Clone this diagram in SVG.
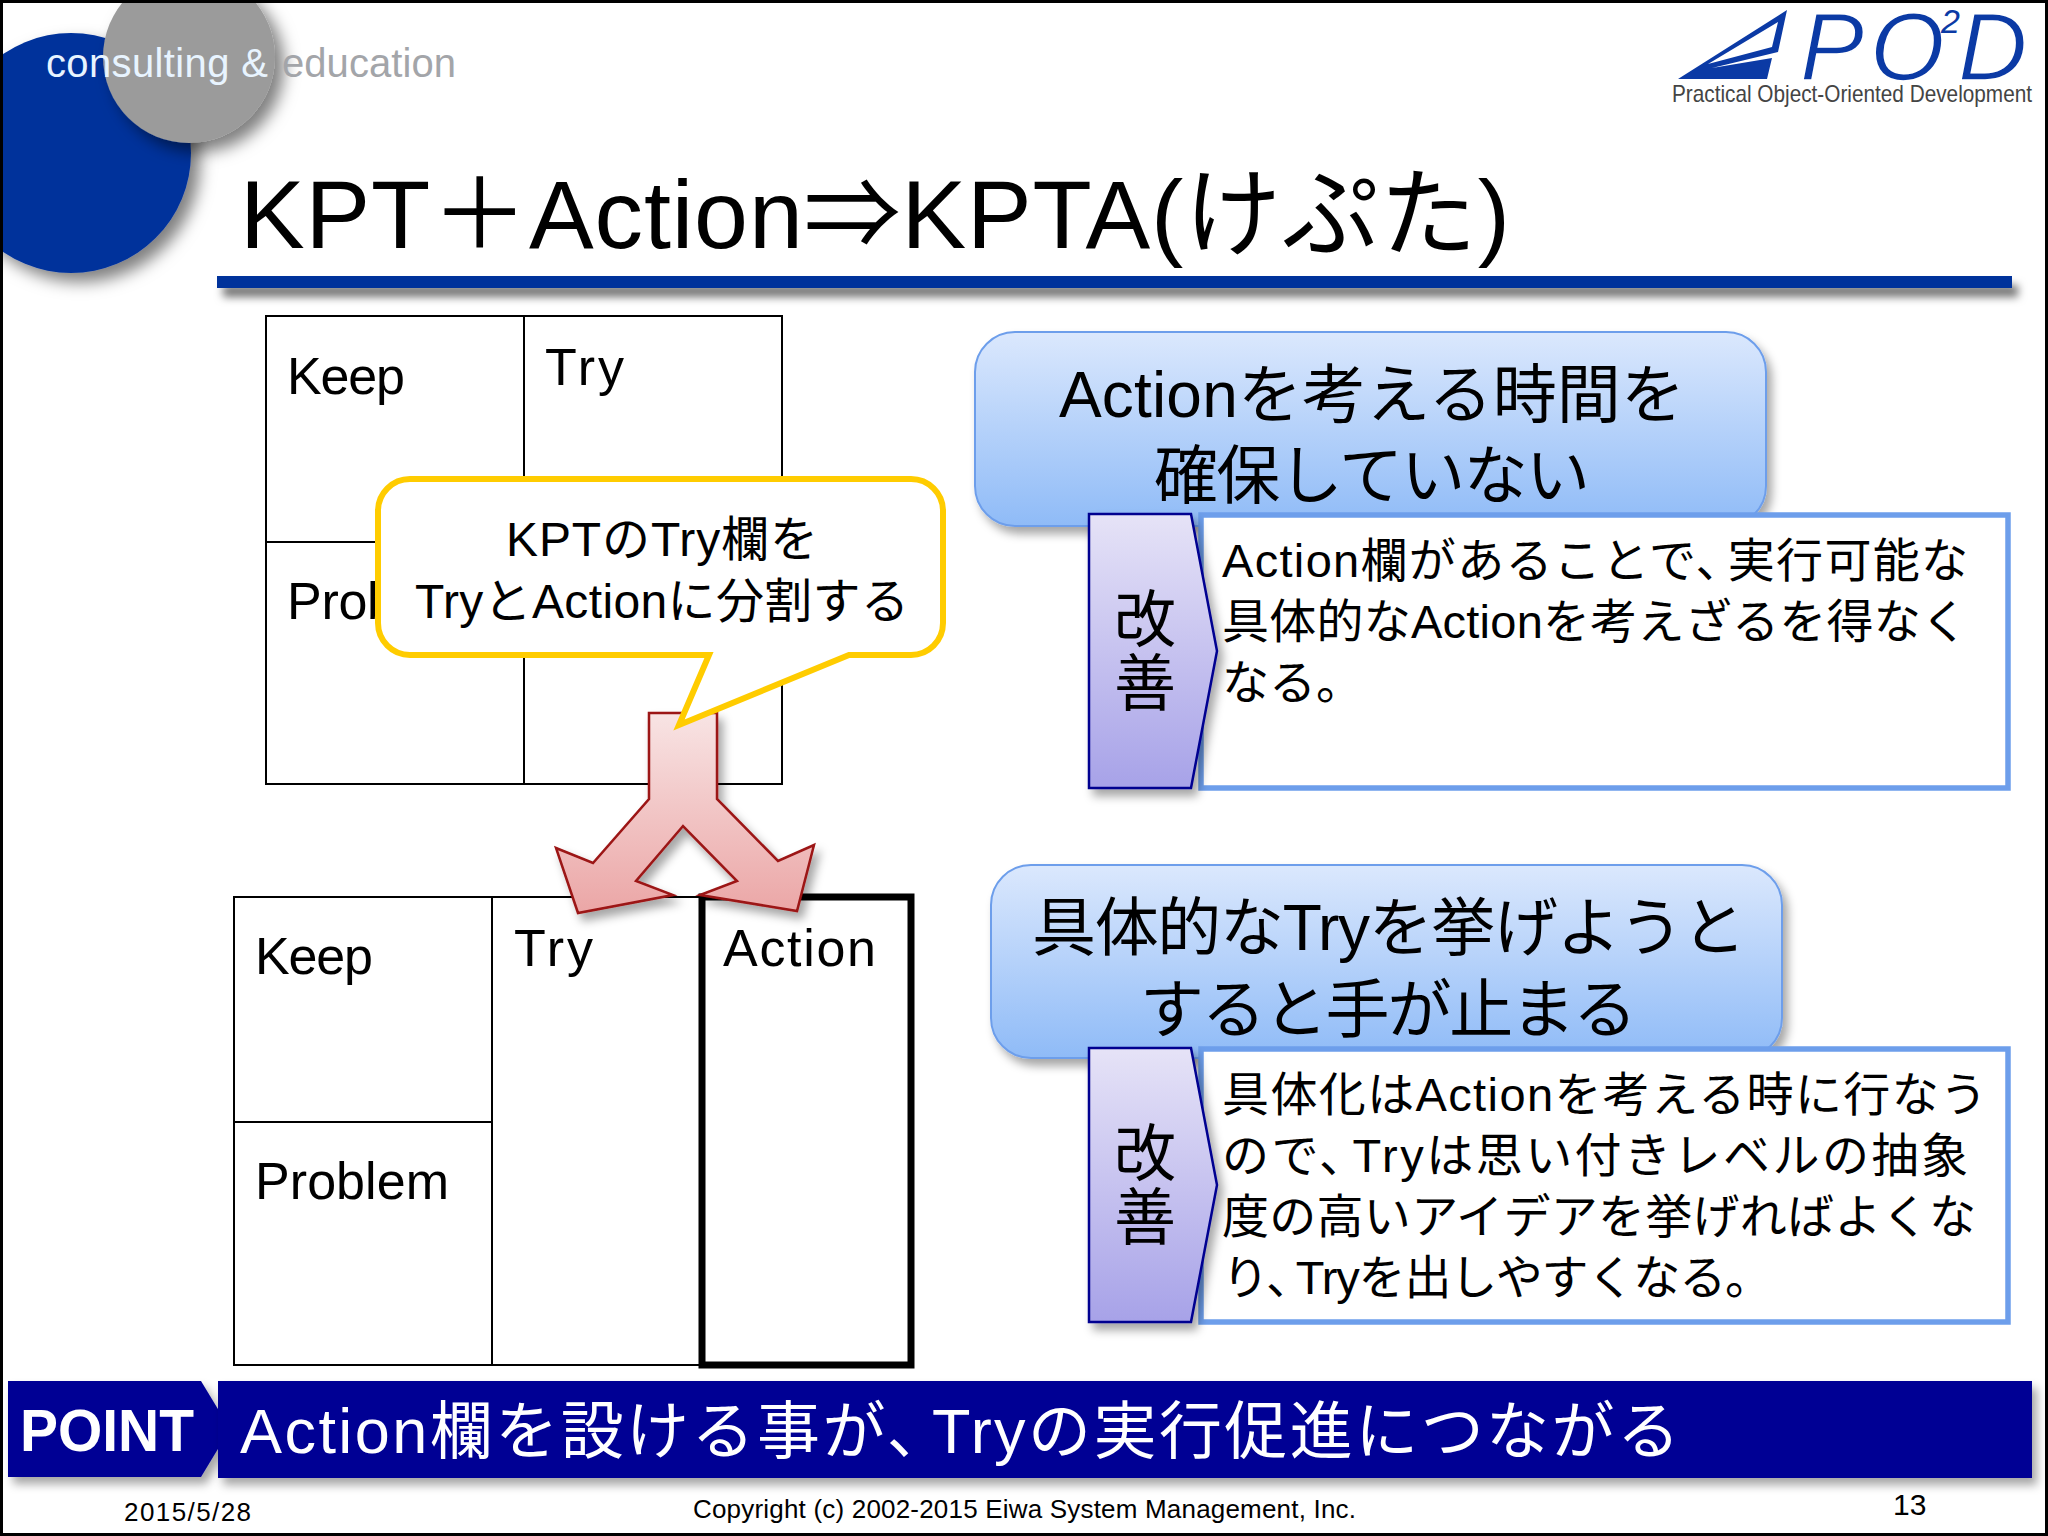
<svg xmlns="http://www.w3.org/2000/svg" width="2048" height="1536" viewBox="0 0 2048 1536">
<style>
text{font-family:"Liberation Sans","Noto Sans CJK JP",sans-serif;fill:#000}
.cell{fill:#fff;stroke:#000;stroke-width:2}
.tl{font-size:52px}
.h{font-size:64px}
.b{font-size:47px}
.k{font-size:62px;text-anchor:middle}
.hbox{fill:url(#gb);stroke:#6d9eeb;stroke-width:2;filter:url(#sh)}
.chev{fill:url(#gv);stroke:#000090;stroke-width:2.5;filter:url(#sh)}
.tbox{fill:#fff;stroke:#6d9eeb;stroke-width:5.5}
.logo{font-size:96px;font-style:italic;fill:#0b3aa5;stroke:#fff;stroke-width:1.5}
</style>
<defs>
<linearGradient id="gb" x1="0" y1="0" x2="0" y2="1"><stop offset="0" stop-color="#dbe8fd"/><stop offset="1" stop-color="#8fbbf7"/></linearGradient>
<linearGradient id="gv" x1="0" y1="0" x2="0" y2="1"><stop offset="0" stop-color="#e6e3f7"/><stop offset="1" stop-color="#a7a2e8"/></linearGradient>
<linearGradient id="gr" x1="0" y1="0" x2="0" y2="1"><stop offset="0" stop-color="#f8e4e4"/><stop offset="1" stop-color="#eba6a6"/></linearGradient>
<filter id="sh" x="-20%" y="-20%" width="140%" height="140%"><feDropShadow dx="5" dy="7" stdDeviation="5" flood-color="#000" flood-opacity=".35"/></filter>
<filter id="sh2" x="-20%" y="-20%" width="140%" height="140%"><feDropShadow dx="9" dy="9" stdDeviation="8" flood-color="#000" flood-opacity=".5"/></filter>
<filter id="sh3" x="-2%" y="-100%" width="104%" height="400%"><feDropShadow dx="6" dy="9" stdDeviation="4" flood-color="#000" flood-opacity=".55"/></filter>
<clipPath id="fr"><rect x="3" y="3" width="2042" height="1530"/></clipPath>
</defs>
<rect width="2048" height="1536" fill="#fff"/>
<g id="logo-left" clip-path="url(#fr)">
<circle cx="71" cy="153" r="120" fill="#04339b" filter="url(#sh2)"/>
<circle cx="189" cy="57" r="86" fill="#9b9b9b" filter="url(#sh2)"/>
<text x="46" y="77" font-size="40" textLength="222" style="fill:#e8f4ff">consulting &amp;</text>
<text x="282" y="77" font-size="40" textLength="174" style="fill:#a3a5a9">education</text>
</g>
<g id="logo-right">
<path d="M1678 79L1787 10L1778 52L1712 68L1772 58L1767 79Z M1708 64L1778 22L1772 47Z" fill="#0b3aa5" fill-rule="evenodd"/>
<text class="logo" x="1800" y="80">P</text>
<text class="logo" x="1870" y="80">O</text>
<text x="1941" y="33" font-size="34" font-style="italic" style="fill:#0b3aa5">2</text>
<text class="logo" x="1958" y="80">D</text>
<text x="1672" y="102" font-size="24" textLength="360" lengthAdjust="spacingAndGlyphs" style="fill:#444">Practical Object-Oriented Development</text>
</g>
<g id="title">
<text x="240" y="248" font-size="97" textLength="1270">KPT＋Action⇒KPTA(けぷた)</text>
<rect x="217" y="276" width="1795" height="12" fill="#04339b" filter="url(#sh3)"/>
</g>
<g id="kpt-top">
<rect class="cell" x="266" y="316" width="516" height="468"/>
<path class="cell" d="M524 316V784M266 542H782"/>
<text class="tl" x="287" y="394" textLength="118">Keep</text>
<text class="tl" x="545" y="385" textLength="79">Try</text>
<text class="tl" x="287" y="619" textLength="192">Problem</text>
</g>
<g id="kpta-bottom">
<rect class="cell" x="234" y="897" width="470" height="468"/>
<path class="cell" d="M492 897V1365M234 1122H492"/>
<text class="tl" x="255" y="974" textLength="118">Keep</text>
<text class="tl" x="514" y="966" textLength="79">Try</text>
<text class="tl" x="255" y="1199" textLength="194">Problem</text>
<rect x="702" y="897" width="209" height="468" fill="none" stroke="#000" stroke-width="7"/>
<text class="tl" x="723" y="966" textLength="153">Action</text>
</g>
<g id="connectors">
<path d="M649 713H717V799L778 861L814 845L797 911L700 895L737 881L683 826L636 881L673 895L578 913L556 848L593 863L649 799Z" fill="url(#gr)" stroke="#9c1414" stroke-width="2.5" filter="url(#sh)"/>
</g>
<g id="callout">
<path d="M410 479H911A32 32 0 0 1 943 511V623A32 32 0 0 1 911 655H849L679 725L709 655H410A32 32 0 0 1 378 623V511A32 32 0 0 1 410 479Z" fill="#fff" stroke="#ffcc00" stroke-width="6"/>
<text x="506" y="556" font-size="48" textLength="312">KPTのTry欄を</text>
<text x="415" y="618" font-size="48" textLength="494">TryとActionに分割する</text>
</g>
<g id="issue-1">
<rect class="hbox" x="975" y="332" width="791" height="194" rx="40"/>
<text class="h" x="1059" y="417" textLength="626">Actionを考える時間を</text>
<text class="h" x="1154" y="498" textLength="436">確保していない</text>
</g>
<g id="fix-1">
<rect class="tbox" x="1201" y="515" width="807" height="273"/>
<path class="chev" d="M1089 514H1191L1217 651L1191 788H1089Z"/>
<text class="k" x="1145" y="642">改</text>
<text class="k" x="1145" y="706">善</text>
<text class="b" x="1222" y="577" textLength="746">Action欄があることで、<tspan dx="-16">実行可能な</tspan></text>
<text class="b" x="1222" y="638" textLength="746">具体的なActionを考えざるを得なく</text>
<text class="b" x="1222" y="699">なる。</text>
</g>
<g id="issue-2">
<rect class="hbox" x="991" y="865" width="791" height="193" rx="40"/>
<text class="h" x="1032" y="950" textLength="714">具体的なTryを挙げようと</text>
<text class="h" x="1140" y="1032" textLength="497">すると手が止まる</text>
</g>
<g id="fix-2">
<rect class="tbox" x="1201" y="1049" width="807" height="273"/>
<path class="chev" d="M1089 1048H1191L1217 1185L1191 1322H1089Z"/>
<text class="k" x="1145" y="1176">改</text>
<text class="k" x="1145" y="1240">善</text>
<text class="b" x="1222" y="1111" textLength="765">具体化はActionを考える時に行なう</text>
<text class="b" x="1222" y="1172" textLength="746">ので、<tspan dx="-16">Tryは思い付きレベルの抽象</tspan></text>
<text class="b" x="1222" y="1233" textLength="754">度の高いアイデアを挙げればよくな</text>
<text class="b" x="1222" y="1294" textLength="550">り、<tspan dx="-16">Tryを出しやすくなる。</tspan></text>
</g>
<g id="point">
<path d="M8 1381H201L230 1429L201 1477H8Z" fill="#000094" filter="url(#sh)"/>
<rect x="218" y="1381" width="1814" height="97" fill="#000094" filter="url(#sh)"/>
<text x="20" y="1451" font-size="60" font-weight="bold" textLength="174" lengthAdjust="spacingAndGlyphs" style="fill:#fff">POINT</text>
<text x="240" y="1453" font-size="63" textLength="1440" style="fill:#fff">Action欄を設ける事が、<tspan dx="-20">Tryの実行促進につながる</tspan></text>
</g>
<g id="footer">
<text x="124" y="1521" font-size="26" textLength="127">2015/5/28</text>
<text x="693" y="1518" font-size="26" textLength="663">Copyright (c) 2002-2015 Eiwa System Management, Inc.</text>
<text x="1893" y="1515" font-size="30">13</text>
</g>
<rect x="1.5" y="1.5" width="2045" height="1533" fill="none" stroke="#000" stroke-width="3"/>
</svg>
